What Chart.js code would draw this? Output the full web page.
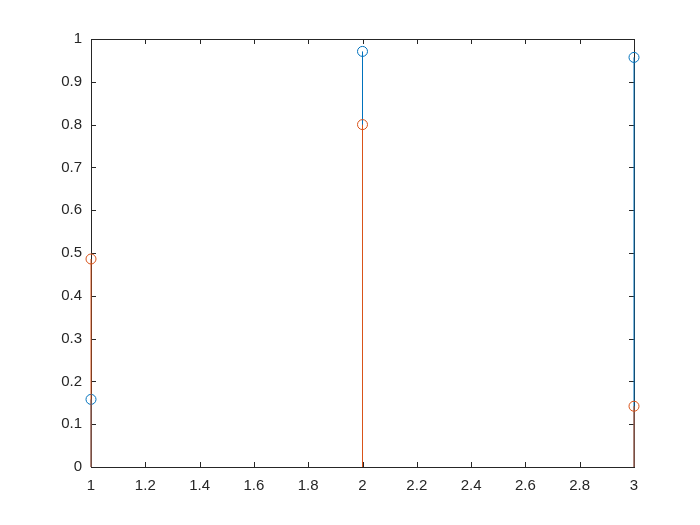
<!DOCTYPE html>
<html>
<head>
<meta charset="utf-8">
<script src="https://cdn.jsdelivr.net/npm/chart.js@4"></script>
<style>
  html, body { margin: 0; padding: 0; background: #fff; }
  #wrap { width: 700px; height: 525px; }
</style>
</head>
<body>
<div id="wrap"><canvas id="stemChart"></canvas></div>
<script>
// data
const xValues = [1, 2, 3];
const series1 = [0.158, 0.971, 0.957];
const series2 = [0.486, 0.800, 0.142];
const xTicks = [1, 1.2, 1.4, 1.6, 1.8, 2, 2.2, 2.4, 2.6, 2.8, 3];
const yTicks = [0, 0.1, 0.2, 0.3, 0.4, 0.5, 0.6, 0.7, 0.8, 0.9, 1];

const blue = "#0072BD";
const orange = "#D95319";
const axisColor = "#262626";

// stems as line segments broken by nulls
function stems(xs, ys) {
  let out = [];
  xs.forEach((x, i) => {
    out.push({ x: x, y: 0 });
    out.push({ x: x, y: ys[i] });
    out.push({ x: x, y: null });
  });
  return out;
}
function points(xs, ys) {
  return xs.map((x, i) => ({ x: x, y: ys[i] }));
}

// box + inward tick marks like matlab axes, drawn under the stems
const boxPlugin = {
  id: "box",
  beforeDatasetsDraw(chart) {
    const c = chart.ctx;
    const a = chart.chartArea;
    const xs = chart.scales.x, ys = chart.scales.y;
    c.save();
    c.strokeStyle = axisColor;
    c.lineWidth = 1;
    c.strokeRect(Math.round(a.left) + 0.5, Math.round(a.top) + 0.5,
      Math.round(a.right - a.left), Math.round(a.bottom - a.top));
    c.beginPath();
    xTicks.forEach(v => {
      let p = Math.round(xs.getPixelForValue(v)) + 0.5;
      c.moveTo(p, a.bottom); c.lineTo(p, a.bottom - 5);
      c.moveTo(p, a.top); c.lineTo(p, a.top + 5);
    });
    yTicks.forEach(v => {
      let p = Math.round(ys.getPixelForValue(v)) + 0.5;
      c.moveTo(a.left, p); c.lineTo(a.left + 5, p);
      c.moveTo(a.right, p); c.lineTo(a.right - 5, p);
    });
    c.stroke();
    c.restore();
  }
};

new Chart(document.getElementById("stemChart"), {
  type: "scatter",
  data: {
    datasets: [
      { type: "scatter", data: points(xValues, series2), borderColor: orange, backgroundColor: "rgba(0,0,0,0)",
        pointRadius: 5, pointBorderWidth: 1, pointHoverRadius: 5, clip: false, order: 1 },
      { type: "line", data: stems(xValues, series2), borderColor: orange, borderWidth: 1,
        pointRadius: 0, spanGaps: false, clip: false, order: 2 },
      { type: "scatter", data: points(xValues, series1), borderColor: blue, backgroundColor: "rgba(0,0,0,0)",
        pointRadius: 5, pointBorderWidth: 1, pointHoverRadius: 5, clip: false, order: 3 },
      { type: "line", data: stems(xValues, series1), borderColor: blue, borderWidth: 1,
        pointRadius: 0, spanGaps: false, clip: false, order: 4 }
    ]
  },
  options: {
    responsive: true,
    maintainAspectRatio: false,
    animation: false,
    layout: { padding: { top: 39, right: 66, left: 0, bottom: 0 } },
    plugins: { legend: { display: false }, tooltip: { enabled: false } },
    scales: {
      x: {
        type: "linear", min: 1, max: 3,
        afterBuildTicks: s => { s.ticks = xTicks.map(v => ({ value: v })); },
        afterFit: s => { s.height = 58; },
        grid: { display: false, drawTicks: false },
        border: { display: false },
        ticks: { color: axisColor, padding: 10, maxRotation: 0, autoSkip: false,
          font: { family: "Liberation Sans, Arial", size: 15 },
          callback: v => String(Number(v.toFixed(1))) }
      },
      y: {
        type: "linear", min: 0, max: 1,
        afterBuildTicks: s => { s.ticks = yTicks.map(v => ({ value: v })); },
        afterFit: s => { s.width = 91; },
        grid: { display: false, drawTicks: false },
        border: { display: false },
        ticks: { color: axisColor, padding: 9, autoSkip: false,
          font: { family: "Liberation Sans, Arial", size: 15 },
          callback: v => String(Number(v.toFixed(1))) }
      }
    }
  },
  plugins: [boxPlugin]
});
</script>
</body>
</html>
